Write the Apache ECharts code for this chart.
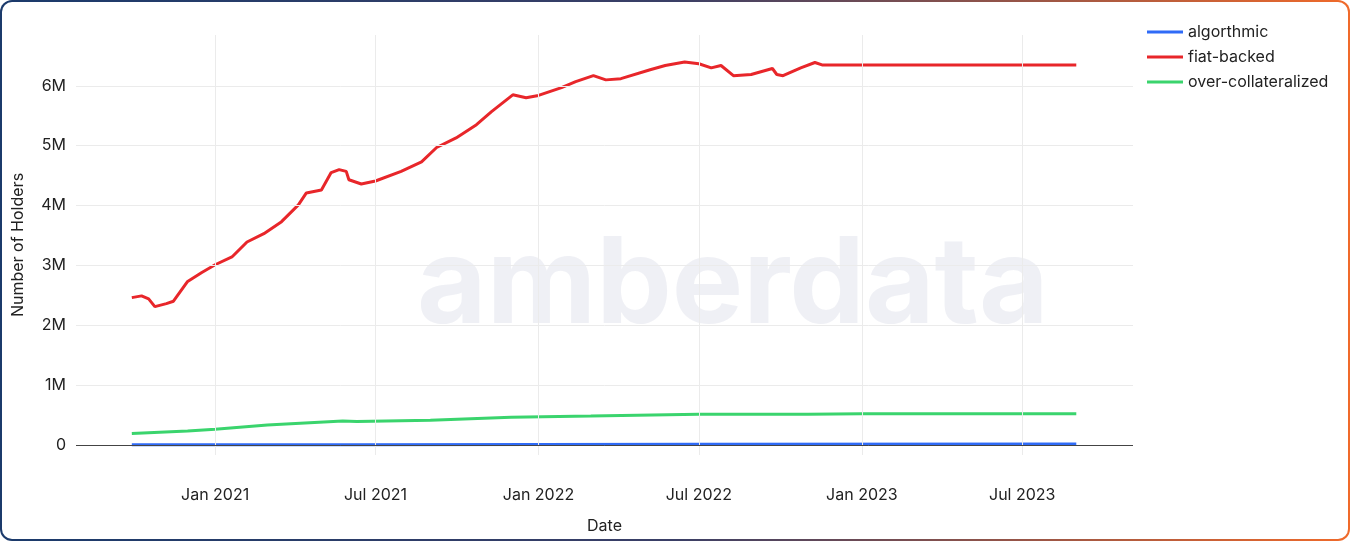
<!DOCTYPE html>
<html><head><meta charset="utf-8">
<script src="https://cdn.jsdelivr.net/npm/echarts@6/dist/echarts.min.js"></script>
<style>
html,body{margin:0;padding:0;background:#fff;}
#wrap{position:absolute;left:0;top:0;width:1350px;height:541px;box-sizing:border-box;border-radius:12px;background:linear-gradient(90deg,#1b3a6b,#3a3f66 50%,#f06a2a);padding:2px;}
#c{width:100%;height:100%;background:#fff;border-radius:10px;}
</style></head><body>
<div id="wrap"><div id="c"></div></div>
<script>
const seriesNames=['algorthmic','fiat-backed','over-collateralized'];
const xTicks=['2021-01-01','2021-07-01','2022-01-01','2022-07-01','2023-01-01','2023-07-01'];
const yTicks=[0,1e6,2e6,3e6,4e6,5e6,6e6];
const fiatBacked=[['2020-09-29',2.46],['2020-10-10',2.49],['2020-10-18',2.44],['2020-10-25',2.31],['2020-11-07',2.36],['2020-11-15',2.40],['2020-12-01',2.73],['2020-12-17',2.88],['2021-01-01',3.01],['2021-01-20',3.14],['2021-02-06',3.39],['2021-02-25',3.53],['2021-03-17',3.73],['2021-04-05',4.01],['2021-04-14',4.21],['2021-05-01',4.26],['2021-05-12',4.55],['2021-05-21',4.60],['2021-05-29',4.57],['2021-06-01',4.43],['2021-06-15',4.36],['2021-07-01',4.41],['2021-07-30',4.57],['2021-08-22',4.73],['2021-09-08',4.97],['2021-09-30',5.13],['2021-10-23',5.35],['2021-11-09',5.57],['2021-12-03',5.85],['2021-12-18',5.80],['2022-01-01',5.84],['2022-01-27',5.97],['2022-02-12',6.07],['2022-03-04',6.17],['2022-03-18',6.10],['2022-04-04',6.12],['2022-05-07',6.27],['2022-05-24',6.34],['2022-06-15',6.40],['2022-07-01',6.37],['2022-07-15',6.30],['2022-07-26',6.34],['2022-08-09',6.17],['2022-08-29',6.19],['2022-09-22',6.29],['2022-09-27',6.19],['2022-10-04',6.17],['2022-10-24',6.30],['2022-11-09',6.39],['2022-11-17',6.35],['2023-08-31',6.35]];
const overCollateralized=[['2020-09-29',0.19],['2020-12-01',0.23],['2021-01-01',0.26],['2021-03-01',0.33],['2021-05-25',0.40],['2021-06-10',0.39],['2021-09-01',0.41],['2021-12-01',0.46],['2022-03-01',0.48],['2022-07-01',0.51],['2022-11-01',0.51],['2023-01-01',0.52],['2023-08-31',0.52]];
const algorthmic=[['2020-09-29',0.001],['2021-06-01',0.002],['2022-01-01',0.006],['2022-07-01',0.01],['2023-08-31',0.012]];
const colors=['#2f6bf7','#e8262a','#3ad46d'];
const T=s=>Date.parse(s+'T00:00:00Z');
const M=v=>v.map(d=>[T(d[0]),d[1]*1e6]);
const MON=['Jan','Feb','Mar','Apr','May','Jun','Jul','Aug','Sep','Oct','Nov','Dec'];
const txt='#222';
const ch=echarts.init(document.getElementById('c'));
ch.setOption({
 animation:false,
 textStyle:{fontFamily:'Inter, sans-serif'},
 graphic:[{type:'text',left:415,top:225,style:{text:'amberdata',fontSize:120,fontWeight:'bold',fill:'rgba(225,228,236,0.55)',fontFamily:'Inter'},z:-1}],
 grid:{left:72,right:215,top:33,bottom:84},
 legend:{orient:'vertical',left:1140,top:17,itemWidth:36,itemHeight:3,itemGap:9,icon:'rect',textStyle:{fontSize:16,color:txt},data:seriesNames},
 xAxis:{type:'value',min:T('2020-07-28'),max:T('2023-11-03'),name:'Date',nameLocation:'middle',nameGap:63,nameTextStyle:{fontSize:16,color:txt},
  axisLine:{show:false},axisTick:{show:false},splitLine:{show:false},
  axisLabel:{fontSize:16,color:txt,margin:32,customValues:xTicks.map(T),formatter:v=>{const d=new Date(v);return MON[d.getUTCMonth()]+' '+d.getUTCFullYear();}}},
 yAxis:{type:'value',min:-170000,max:6850000,name:'Number of Holders',nameLocation:'middle',nameGap:50,nameTextStyle:{fontSize:16,color:txt},
  axisLabel:{fontSize:16,color:txt,margin:10,customValues:yTicks,formatter:v=>v===0?'0':(v/1e6)+'M'},
  splitLine:{show:false},axisLine:{show:false},axisTick:{show:false}},
 series:[
  {name:'grid',type:'line',data:[],markLine:{silent:true,symbol:'none',label:{show:false},lineStyle:{color:'#ebebeb',type:'solid',width:1},data:yTicks.slice(1).map(v=>({yAxis:v})).concat(xTicks.map(s=>({xAxis:T(s)})))}},
  {name:'zero',type:'line',data:[],markLine:{silent:true,symbol:'none',label:{show:false},lineStyle:{color:'#444',type:'solid',width:1},data:[{yAxis:0}]}},
  {name:'algorthmic',type:'line',data:M(algorthmic),showSymbol:false,lineStyle:{width:3,color:colors[0]},itemStyle:{color:colors[0]},z:3},
  {name:'fiat-backed',type:'line',data:M(fiatBacked),showSymbol:false,lineStyle:{width:3,color:colors[1]},itemStyle:{color:colors[1]},z:3},
  {name:'over-collateralized',type:'line',data:M(overCollateralized),showSymbol:false,lineStyle:{width:3,color:colors[2]},itemStyle:{color:colors[2]},z:3}
 ]
});
</script></body></html>
